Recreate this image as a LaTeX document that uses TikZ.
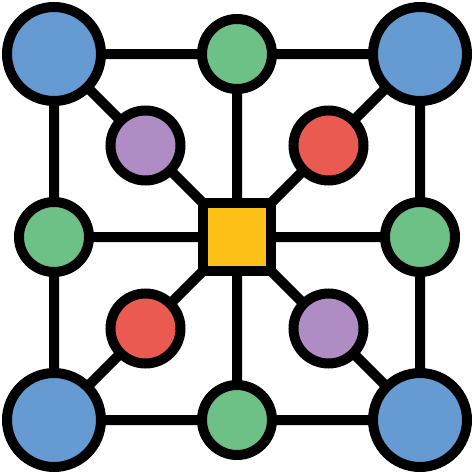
\documentclass[tikz,border=0pt]{standalone}
\usetikzlibrary{backgrounds}
\begin{document}
\begin{tikzpicture}[x=1pt,y=-1pt,
  lw/.style={line width=10pt},
  dot/.style={circle,draw=black,lw,inner sep=0pt,minimum size=#1},
  big/.style={dot=94pt,fill=cblue},
  small/.style={dot=70pt},
  link/.style={draw=black,lw}]
\definecolor{cblue}{HTML}{659AD2}
\definecolor{cgreen}{HTML}{6EC186}
\definecolor{cpurple}{HTML}{AF8CC3}
\definecolor{cred}{HTML}{EA5A50}
\definecolor{cyellow}{HTML}{FCC016}
\useasboundingbox (0,0) rectangle (474,474);
\node[big] (tl) at (54,54) {};
\node[big] (tr) at (420,54) {};
\node[big] (bl) at (54,420) {};
\node[big] (br) at (420,420) {};
\node[small,fill=cgreen] (gt) at (237,54) {};
\node[small,fill=cgreen] (gb) at (237,420) {};
\node[small,fill=cgreen] (gl) at (54,237) {};
\node[small,fill=cgreen] (gr) at (420,237) {};
\node[small,fill=cpurple] (p1) at (145.5,145.5) {};
\node[small,fill=cpurple] (p2) at (328.5,328.5) {};
\node[small,fill=cred] (r1) at (328.5,145.5) {};
\node[small,fill=cred] (r2) at (145.5,328.5) {};
\node[draw=black,lw,fill=cyellow,inner sep=0pt,minimum size=68pt] (sq) at (237,237) {};
\begin{scope}[on background layer]
\path[link] (tl.center) -- (tr.center) -- (br.center) -- (bl.center) -- cycle
  (gt.center) -- (gb.center)
  (gl.center) -- (gr.center)
  (tl.center) -- (br.center)
  (tr.center) -- (bl.center);
\end{scope}
\end{tikzpicture}
\end{document}
